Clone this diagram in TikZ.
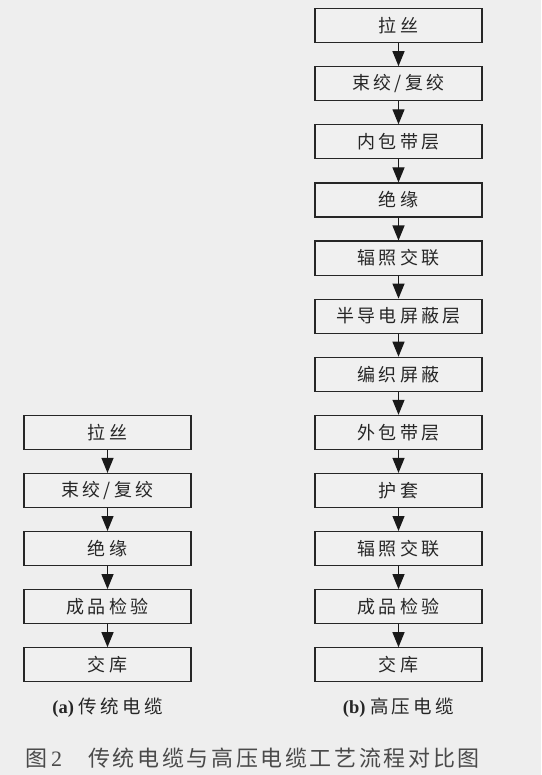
\documentclass[tikz,border=0pt]{standalone}
\usepackage{fontspec}
\setmainfont{Liberation Serif}
\newfontfamily\cjk{Noto Sans CJK SC}
\newfontfamily\cjkesp[LetterSpace=18]{Noto Sans CJK SC}
\newfontfamily\cjktit[LetterSpace=12]{Noto Sans CJK SC}
\usetikzlibrary{arrows.meta}
\definecolor{fondo}{HTML}{EEEEEE}
\definecolor{cajagris}{HTML}{F0F0F0}
\definecolor{textogris}{HTML}{4A4A4A}
\begin{document}
\begin{tikzpicture}[x=1pt,y=-1pt,
    caja/.style={draw=black!85, fill=cajagris, line width=1.2pt, minimum width=167pt, minimum height=34pt, inner sep=0pt, text=black!85, font=\cjkesp\fontsize{18}{20}\selectfont},
    flecha/.style={-{Triangle[width=12pt,length=15pt]}, line width=1.2pt, draw=black!90},
    rotulo/.style={text=black!85, font=\fontsize{18.5}{20}\selectfont}]
    \fill[fondo] (0,0) rectangle (541,775); %fondo de la figura
    \useasboundingbox (0,0) rectangle (541,775);

    % (a) cable tradicional
    \node[caja] (a1) at (107.5,432.4) {拉丝};
    \node[caja] (a2) at (107.5,490.5) {束绞/复绞};
    \node[caja] (a3) at (107.5,548.6) {绝缘};
    \node[caja] (a4) at (107.5,606.7) {成品检验};
    \node[caja] (a5) at (107.5,664.8) {交库};

    \draw[flecha] (a1) -- (a2);
    \draw[flecha] (a2) -- (a3);
    \draw[flecha] (a3) -- (a4);
    \draw[flecha] (a4) -- (a5);

    % (b) cable de alta tension
    \node[caja] (b1) at (398.5,25.7) {拉丝};
    \node[caja] (b2) at (398.5,83.8) {束绞/复绞};
    \node[caja] (b3) at (398.5,141.9) {内包带层};
    \node[caja] (b4) at (398.5,200.0) {绝缘};
    \node[caja] (b5) at (398.5,258.1) {辐照交联};
    \node[caja] (b6) at (398.5,316.2) {半导电屏蔽层};
    \node[caja] (b7) at (398.5,374.3) {编织屏蔽};
    \node[caja] (b8) at (398.5,432.4) {外包带层};
    \node[caja] (b9) at (398.5,490.5) {护套};
    \node[caja] (b10) at (398.5,548.6) {辐照交联};
    \node[caja] (b11) at (398.5,606.7) {成品检验};
    \node[caja] (b12) at (398.5,664.8) {交库};

    \foreach \i [evaluate=\i as \j using int(\i+1)] in {1,...,11}
        \draw[flecha] (b\i) -- (b\j);

    \node[rotulo] (ra) at (107.5,708) {\textbf{(a)} {\cjkesp 传统电缆}};
    \node[rotulo] (rb) at (398.5,708) {\textbf{(b)} {\cjkesp 高压电缆}};

    \node[anchor=west, text=textogris, font=\fontsize{22}{24}\selectfont] (titulo) at (22,758) {{\cjk 图}\,2\hspace{26pt}{\cjktit 传统电缆与高压电缆工艺流程对比图}};
\end{tikzpicture}
\end{document}
